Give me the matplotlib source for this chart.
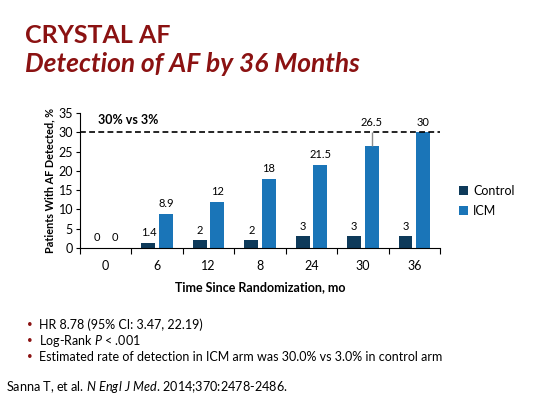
import numpy as np
import matplotlib.pyplot as plt
from matplotlib.patches import Patch

plt.rcParams['font.family'] = ['Lato', 'DejaVu Sans']
plt.rcParams['mathtext.fontset'] = 'custom'
plt.rcParams['mathtext.rm'] = 'Lato'
plt.rcParams['mathtext.it'] = 'Lato:italic'

months = ['0', '6', '12', '8', '24', '30', '36']
control = [0, 1.4, 2, 2, 3, 3, 3]
icm = [0, 8.9, 12, 18, 21.5, 26.5, 30]
icm_err_up = [0, 0, 0, 0, 0, 3.5, 0]

dark_red = '#8b1212'
navy = '#0e3a5a'
blue = '#1a75b8'

fig = plt.figure(figsize=(5.4, 4.05), dpi=100)
fig.patch.set_facecolor('white')

# titles
fig.text(25 / 540, 1 - 43 / 405, 'CRYSTAL AF', color=dark_red, fontsize=18,
         fontweight='bold', va='baseline', ha='left')
fig.text(25 / 540, 1 - 72 / 405, 'Detection of AF by 36 Months', color=dark_red,
         fontsize=19, fontweight='bold', style='italic', va='baseline', ha='left')

ax = fig.add_axes([80 / 540, 1 - 248 / 405, 360 / 540, 135 / 405])
x = np.arange(len(months))
w = 0.27
off = 0.17
ax.bar(x - off, control, w, color=navy, label='Control')
ax.bar(x + off, icm, w, color=blue, label='ICM')
ax.errorbar(x + off, icm, yerr=[np.zeros(len(icm)), icm_err_up], fmt='none',
            ecolor='#8c8c8c', elinewidth=1, capsize=0)

for i in range(len(months)):
    ax.text(x[i] - off, control[i] + 1.2, f'{control[i]:g}', ha='center',
            va='bottom', fontsize=8)
    ax.text(x[i] + off, icm[i] + icm_err_up[i] + 1.2, f'{icm[i]:g}', ha='center',
            va='bottom', fontsize=8)

ax.axhline(30, color='black', linestyle=(0, (3.5, 2)), linewidth=1.2)
ax.text(-0.15, 33.2, '30% vs 3%', fontsize=9, fontweight='bold', va='center')

ax.set_xlim(-0.5, len(months) - 0.5)
ax.set_ylim(0, 35)
ax.set_yticks(np.arange(0, 36, 5))
ax.set_xticks(x)
ax.set_xticklabels(months, fontsize=9)
ax.set_xticks(np.arange(-0.5, len(months), 1), minor=True)
ax.tick_params(axis='x', which='major', length=0, pad=9)
ax.tick_params(axis='x', which='minor', length=4, direction='out', width=0.8)
ax.tick_params(axis='y', labelsize=9, length=3, direction='out', width=0.8, pad=2)
for s in ['top', 'right']:
    ax.spines[s].set_visible(False)
ax.spines['left'].set_linewidth(0.8)
ax.spines['bottom'].set_linewidth(0.8)
ax.set_xlabel('Time Since Randomization, mo', fontsize=9, fontweight='bold',
              labelpad=6)
ax.set_ylabel('Patients With AF Detected, %', fontsize=7.8, fontweight='bold',
              labelpad=2)

handles = [Patch(facecolor=navy), Patch(facecolor=blue)]
fig.legend(handles, ['Control', 'ICM'], loc='center left',
           bbox_to_anchor=(448 / 540, 1 - 201 / 405), frameon=False, fontsize=9,
           handlelength=0.7, handleheight=0.7, handletextpad=0.4, labelspacing=0.6)

# bullets
bullets = ['HR 8.78 (95% CI: 3.47, 22.19)',
           r'Log-Rank $\it{P}$ < .001',
           'Estimated rate of detection in ICM arm was 30.0% vs 3.0% in control arm']
for k, b in enumerate(bullets):
    yy = 1 - (325 + 16 * k) / 405
    fig.text(27 / 540, yy, '•', color=dark_red, fontsize=7, va='center')
    fig.text(39 / 540, yy, b, fontsize=9, va='center')

fig.text(6 / 540, 1 - 387 / 405,
         r'Sanna T, et al. $\it{N\ Engl\ J\ Med}$. 2014;370:2478-2486.',
         fontsize=9.1, va='center')

fig.savefig('out.png', dpi=100)
